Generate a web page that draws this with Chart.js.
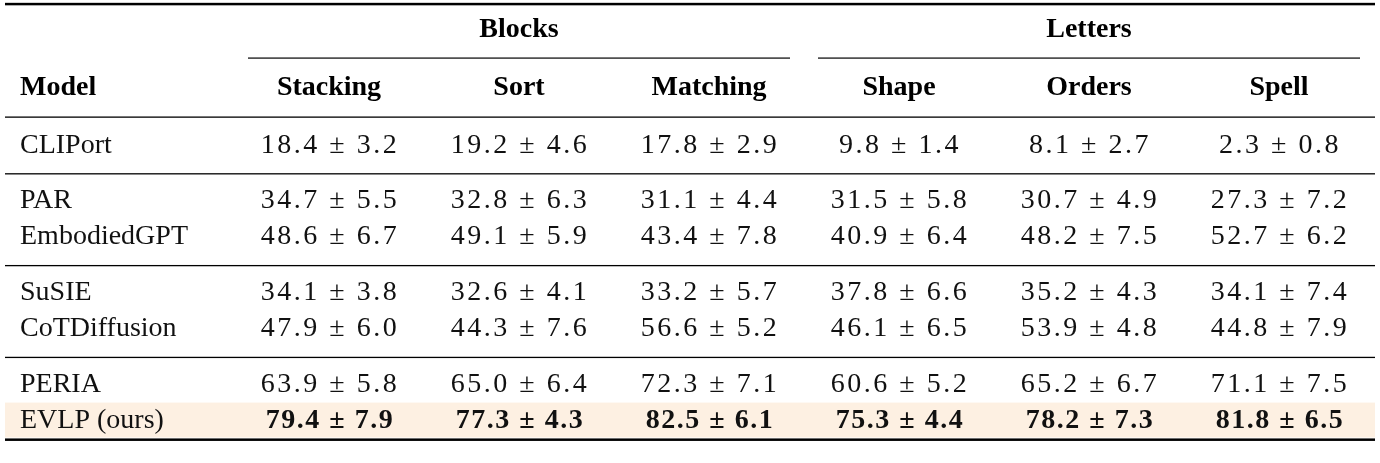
<!DOCTYPE html>
<html>
<head>
<meta charset="utf-8">
<script src="https://cdn.jsdelivr.net/npm/chart.js@4.4.1/dist/chart.umd.min.js"></script>
<style>
  body { margin: 0; background: #fff; }
  #wrap { width: 1380px; height: 463px; }
</style>
</head>
<body>
<div id="wrap"><canvas id="tbl"></canvas></div>
<script>
const columns = ['Model', 'Stacking', 'Sort', 'Matching', 'Shape', 'Orders', 'Spell'];
const groupHeaders = [{ name: 'Blocks', from: 'Stacking', to: 'Matching' },
                      { name: 'Letters', from: 'Shape', to: 'Spell' }];
const models = ['CLIPort', 'PAR', 'EmbodiedGPT', 'SuSIE', 'CoTDiffusion', 'PERIA', 'EVLP (ours)'];
const modelGroup = [0, 1, 1, 2, 2, 3, 3];
const means = [
  [18.4, 19.2, 17.8, 9.8, 8.1, 2.3],
  [34.7, 32.8, 31.1, 31.5, 30.7, 27.3],
  [48.6, 49.1, 43.4, 40.9, 48.2, 52.7],
  [34.1, 32.6, 33.2, 37.8, 35.2, 34.1],
  [47.9, 44.3, 56.6, 46.1, 53.9, 44.8],
  [63.9, 65.0, 72.3, 60.6, 65.2, 71.1],
  [79.4, 77.3, 82.5, 75.3, 78.2, 81.8]
];
const stds = [
  [3.2, 4.6, 2.9, 1.4, 2.7, 0.8],
  [5.5, 6.3, 4.4, 5.8, 4.9, 7.2],
  [6.7, 5.9, 7.8, 6.4, 7.5, 6.2],
  [3.8, 4.1, 5.7, 6.6, 4.3, 7.4],
  [6.0, 7.6, 5.2, 6.5, 4.8, 7.9],
  [5.8, 6.4, 7.1, 5.2, 6.7, 7.5],
  [7.9, 4.3, 6.1, 4.4, 7.3, 6.5]
];
const boldRow = 6;

// row positions in row units: groups separated by a larger gap
const rowPos = [];
let pos = 3.2;
models.forEach((m, i) => {
  if (i > 0) pos += modelGroup[i] === modelGroup[i - 1] ? 1.0 : 1.55;
  rowPos.push(pos);
});
const headRow1 = 0, headRow2 = 1.6;

const points = [];
models.forEach((m, r) => {
  points.push({ x: 'Model', y: rowPos[r], text: m, r: r, left: true });
  means[r].forEach((v, c) => {
    points.push({ x: columns[c + 1], y: rowPos[r],
      text: v.toFixed(1) + ' \u00b1 ' + stds[r][c].toFixed(1), r: r });
  });
});

const FONT = '"Liberation Serif", "DejaVu Serif", serif';

const tablePlugin = {
  id: 'tablePlugin',
  beforeDatasetsDraw(chart) {
    const { ctx, scales: { x, y } } = chart;
    const L = 5, R = 1375;
    const hl1 = y.getPixelForValue(rowPos[boldRow] - 0.5);
    const hl2 = y.getPixelForValue(rowPos[boldRow] + 0.47);
    ctx.save();
    ctx.fillStyle = '#fdf0e2';
    ctx.fillRect(L, hl1, R - L, hl2 - hl1);
    const hline = (v, w) => {
      const py = y.getPixelForValue(v);
      ctx.fillStyle = '#000';
      ctx.fillRect(L, py - w / 2, R - L, w);
    };
    hline(headRow1 - 0.72, 2.5);
    hline(headRow2 + 0.82, 1.3);
    for (let i = 1; i < models.length; i++) {
      if (modelGroup[i] !== modelGroup[i - 1]) hline((rowPos[i] + rowPos[i - 1]) / 2 + 0.02, 1.3);
    }
    hline(rowPos[rowPos.length - 1] + 0.53, 2.5);
    // group headers and cmidrules
    ctx.font = 'bold 28px ' + FONT;
    ctx.textAlign = 'center';
    ctx.textBaseline = 'middle';
    const half = x.getPixelForValue(1) - x.getPixelForValue(0);
    groupHeaders.forEach(g => {
      const a = x.getPixelForValue(columns.indexOf(g.from)) - half / 2 + 14;
      const b = x.getPixelForValue(columns.indexOf(g.to)) + half / 2 - 14;
      ctx.fillText(g.name, (a + b) / 2, y.getPixelForValue(headRow1));
      ctx.fillRect(a, y.getPixelForValue(headRow1 + 0.78) - 0.6, b - a, 1.2);
    });
    columns.forEach((c, i) => {
      const px = x.getPixelForValue(i);
      if (i === 0) {
        ctx.textAlign = 'left';
        ctx.fillText(c, px - 119, y.getPixelForValue(headRow2));
      } else {
        ctx.textAlign = 'center';
        ctx.fillText(c, px, y.getPixelForValue(headRow2));
      }
    });
    ctx.restore();
  },
  afterDatasetsDraw(chart) {
    const { ctx } = chart;
    const meta = chart.getDatasetMeta(0);
    ctx.save();
    ctx.fillStyle = '#111';
    ctx.textBaseline = 'middle';
    meta.data.forEach((el, i) => {
      const p = points[i];
      const bold = p.r === boldRow && !p.left;
      ctx.font = (bold ? 'bold ' : '') + '28px ' + FONT;
      if (p.left) {
        ctx.letterSpacing = '0px';
        ctx.textAlign = 'left';
        ctx.fillText(p.text, el.x - 119, el.y);
      } else {
        ctx.letterSpacing = bold ? '1.5px' : '2.5px';
        ctx.textAlign = 'center';
        ctx.fillText(p.text, el.x + 1, el.y);
      }
    });
    ctx.restore();
  }
};

new Chart(document.getElementById('tbl'), {
  type: 'scatter',
  data: {
    labels: columns,
    datasets: [{ data: points, pointRadius: 0, pointHoverRadius: 0 }]
  },
  options: {
    responsive: true,
    maintainAspectRatio: false,
    animation: false,
    layout: { padding: { left: 44, right: 6, top: 0, bottom: 0 } },
    plugins: { legend: { display: false }, tooltip: { enabled: false } },
    events: [],
    scales: {
      x: { type: 'category', labels: columns, offset: true, display: false },
      y: { type: 'linear', reverse: true, min: -30 / 36, max: 433 / 36, display: false }
    }
  },
  plugins: [tablePlugin]
});
</script>
</body>
</html>
